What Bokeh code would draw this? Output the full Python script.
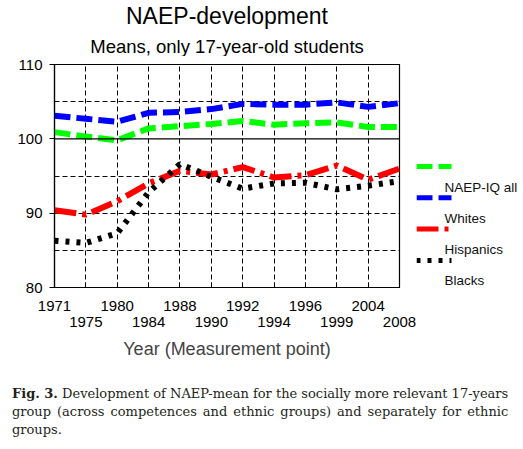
from bokeh.plotting import figure
from bokeh.models import Range1d, FixedTicker, LinearAxis, Span, Div, Grid
from bokeh.core.properties import value
from bokeh.layouts import column, row
from bokeh.embed import file_html
from bokeh.resources import INLINE

years = ["1971", "1975", "1980", "1984", "1988", "1990", "1992", "1994", "1996", "1999", "2004", "2008"]
naep_all = [100.9, 100.3, 99.8, 101.4, 101.7, 102.0, 102.4, 101.9, 102.1, 102.2, 101.6, 101.6]
whites = [103.1, 102.7, 102.3, 103.5, 103.6, 104.0, 104.7, 104.6, 104.6, 104.9, 104.3, 104.8]
hispanics = [90.4, 89.8, 91.6, 94.0, 95.7, 95.2, 96.2, 94.8, 95.1, 96.4, 94.5, 96.0]
blacks = [86.3, 86.0, 87.3, 92.8, 96.6, 94.9, 93.3, 94.0, 94.1, 93.2, 93.7, 94.3]
series_names = ["NAEP-IQ all", "Whites", "Hispanics", "Blacks"]
y_ticks = [80, 90, 100, 110]
y_grid = [85, 90, 95, 105]

title = "NAEP-development"
subtitle = "Means, only 17-year-old students"
caption_lines = ["<b>Fig. 3.</b> Development of NAEP-mean for the socially more relevant 17-years",
                 "group (across competences and ethnic groups) and separately for ethnic",
                 "groups."]

FONT = "Liberation Sans"
styles = [dict(color="#00ff00", line_dash="16 6"),
          dict(color="#0000ff", line_dash="16 6"),
          dict(color="#ff0000", line_dash="22 6 4 6"),
          dict(color="black", line_dash="4 7")]

FW, FH = 345, 223
TOP = 8           # space above the frame inside the main figure
MAIN_W = 54 + FW + 17
MAIN_H = TOP + FH + 75
TITLE_H = 56
TOTAL_W = 519
x = list(range(len(years)))


def blank(w, h, yr):
    f = figure(width=w, height=h, x_range=Range1d(0, w), y_range=yr, x_axis_type=None, y_axis_type=None,
               output_backend="svg", toolbar_location=None, min_border=0)
    f.outline_line_color = None
    return f


# title block (pixel coordinates, y downward)
tf = blank(TOTAL_W, TITLE_H, Range1d(TITLE_H, 0))
cx = 54 + FW / 2
tf.text(x=[cx], y=[15.5], text=[title], text_font=value(FONT), text_font_size="23px",
        text_align="center", text_baseline="middle", text_color="black")
tf.text(x=[cx], y=[45.5], text=[subtitle], text_font=value(FONT), text_font_size="18.5px",
        text_align="center", text_baseline="middle", text_color="black")

# main chart
p = figure(frame_width=FW, frame_height=FH, x_range=Range1d(0, len(years) - 1), y_range=Range1d(80, 110),
           x_axis_type=None, output_backend="svg", toolbar_location=None,
           min_border_left=54, min_border_right=17, min_border_top=TOP, min_border_bottom=75)
p.outline_line_color = "black"
p.outline_line_width = 1.2

p.yaxis.ticker = FixedTicker(ticks=y_ticks)
p.yaxis.major_tick_out = 5
p.yaxis.major_tick_in = 0
p.yaxis.minor_tick_line_color = None
p.yaxis.major_label_standoff = 7
p.yaxis.major_label_text_font = FONT
p.yaxis.major_label_text_font_size = "15px"
p.yaxis.major_label_text_color = "black"
p.yaxis.axis_line_width = 1.2

# two rows of x labels
row1 = LinearAxis(ticker=FixedTicker(ticks=x),
                  major_label_overrides={i: (years[i] if i % 2 == 0 else "") for i in x})
row1.major_tick_in = 5
row1.major_tick_out = 0
row1.minor_tick_line_color = None
row1.major_label_standoff = 13
row1.axis_line_width = 1.2
row2 = LinearAxis(ticker=FixedTicker(ticks=x),
                  major_label_overrides={i: (years[i] if i % 2 == 1 else "") for i in x},
                  axis_label="Year (Measurement point)")
row2.axis_line_color = None
row2.major_tick_line_color = None
row2.minor_tick_line_color = None
row2.major_label_standoff = -3
row2.axis_label_standoff = 9
row2.axis_label_text_font = FONT
row2.axis_label_text_font_size = "18px"
row2.axis_label_text_font_style = "normal"
for ax in (row1, row2):
    ax.major_label_text_font = FONT
    ax.major_label_text_font_size = "15px"
    ax.major_label_text_color = "black"
p.add_layout(row1, "below")
p.add_layout(row2, "below")

p.ygrid.ticker = FixedTicker(ticks=y_grid)
p.ygrid.grid_line_color = "black"
p.ygrid.grid_line_dash = "5 3"
p.add_layout(Grid(dimension=0, ticker=FixedTicker(ticks=x[1:-1]), grid_line_color="black", grid_line_dash="5 3"))
p.add_layout(Span(location=100, dimension="width", line_color="black", line_width=1.2))

for vals, st in zip([naep_all, whites, hispanics, blacks], styles):
    p.line(x, vals, line_width=6, **st)

# legend block; the row aligns its frame with the main frame, so y is pixels below the frame top
LW = TOTAL_W - MAIN_W
lf = blank(LW, MAIN_H, Range1d(FH, 0))
for i, (name, st) in enumerate(zip(series_names, styles)):
    gy = 102 + 31.3 * i
    lf.line([0, 35], [gy, gy], line_width=5, **st)
    lf.text(x=[28], y=[gy + 20.5], text=[name], text_font=value(FONT), text_font_size="13.5px",
            text_align="left", text_baseline="middle", text_color="#111111")

cap_html = "".join('<div style="text-align:justify;text-align-last:%s">%s</div>'
                   % ("justify" if i < len(caption_lines) - 1 else "left", ln)
                   for i, ln in enumerate(caption_lines))
cap = Div(text=cap_html, width=503, margin=(23, 0, 0, 12),
          styles={"font-family": "DejaVu Serif", "font-size": "13px", "line-height": "18px",
                  "color": "#231f20"})

layout = column(tf, row(p, lf, spacing=0), cap, spacing=0)
open("out.html", "w").write(file_html(layout, INLINE))
